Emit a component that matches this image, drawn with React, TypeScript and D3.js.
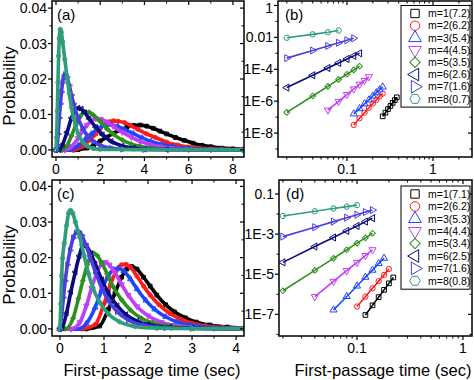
import React from "react";
import * as d3 from "d3";

type Pt = [number, number];

const seriesNames = ["m=1", "m=2", "m=3", "m=4", "m=5", "m=6", "m=7", "m=8"];
const seriesColors = ["#000000", "#ff1a1a", "#1f46ff", "#c33df5", "#2f8f1f", "#0a0a80", "#4a3ee0", "#2f9c7c"];
const seriesShapes = ["square", "circle", "up", "down", "diamond", "left", "right", "hexagon"];
const exponentsB = ["7.2", "6.2", "5.4", "4.5", "3.5", "2.6", "1.6", "0.7"];
const exponentsD = ["7.1", "6.2", "5.3", "4.4", "3.4", "2.5", "1.6", "0.8"];

// ---------- Panel (a): probability vs first-passage time ----------
const a_m1: Pt[] = [[0,0],[0.8,0],[1.0,0.0001],[1.4,0.0005],[1.7,0.0013],[2.0,0.0025],[2.3,0.0036],[2.6,0.0047],[2.9,0.0056],[3.2,0.0064],[3.5,0.0069],[3.8,0.0070],[4.1,0.0067],[4.4,0.0061],[4.7,0.0053],[5.0,0.0045],[5.4,0.0035],[5.8,0.0027],[6.2,0.0019],[6.6,0.0013],[7.0,0.0009],[7.5,0.0005],[8.0,0.0003],[8.5,0.0002]];
const a_m2: Pt[] = [[0,0],[0.8,0],[1.2,0.0010],[1.5,0.0027],[1.8,0.0045],[2.0,0.0060],[2.2,0.0071],[2.4,0.0079],[2.6,0.0082],[2.8,0.0081],[3.1,0.0077],[3.4,0.0068],[3.7,0.0058],[4.1,0.0045],[4.5,0.0035],[5.0,0.0022],[5.5,0.0014],[6.0,0.0008],[6.5,0.0005],[7.0,0.0003],[7.5,0.0002],[8.5,0.0001]];
const a_m3: Pt[] = [[0,0],[0.6,0],[1.0,0.0012],[1.3,0.0028],[1.6,0.0045],[1.9,0.0060],[2.1,0.0068],[2.3,0.0072],[2.5,0.0071],[2.8,0.0066],[3.1,0.0058],[3.5,0.0046],[3.9,0.0034],[4.3,0.0024],[4.8,0.0015],[5.3,0.0009],[6.0,0.0004],[6.5,0.0002],[7.5,0.0001],[8.5,0]];
const a_m4: Pt[] = [[0,0],[0.4,0],[0.7,0.0010],[1.0,0.0033],[1.2,0.0053],[1.4,0.0070],[1.6,0.0082],[1.8,0.0088],[2.0,0.0087],[2.3,0.0079],[2.6,0.0066],[3.0,0.0050],[3.4,0.0036],[3.8,0.0024],[4.2,0.0016],[4.7,0.0009],[5.2,0.0005],[6.0,0.0002],[7.0,0.0001],[8.5,0]];
const a_m5: Pt[] = [[0,0],[0.3,0],[0.5,0.0012],[0.7,0.0040],[0.9,0.0070],[1.1,0.0095],[1.3,0.0107],[1.5,0.0106],[1.7,0.0098],[2.0,0.0080],[2.3,0.0060],[2.6,0.0044],[3.0,0.0028],[3.4,0.0017],[3.8,0.0010],[4.3,0.0005],[5.0,0.0002],[6.0,0.0001],[8.5,0]];
const a_m6: Pt[] = [[0,0],[0.15,0],[0.3,0.0015],[0.5,0.0050],[0.7,0.0090],[0.85,0.0110],[1.0,0.0118],[1.15,0.0115],[1.3,0.0105],[1.5,0.0088],[1.8,0.0064],[2.1,0.0043],[2.5,0.0024],[3.0,0.0011],[3.5,0.0005],[4.0,0.0002],[5.0,0.0001],[8.5,0]];
const a_m7: Pt[] = [[0,0],[0.05,0.0010],[0.1,0.0045],[0.15,0.0090],[0.2,0.0130],[0.25,0.0163],[0.3,0.0190],[0.35,0.0206],[0.42,0.0213],[0.5,0.0205],[0.6,0.0182],[0.7,0.0155],[0.8,0.0130],[1.0,0.0090],[1.2,0.0062],[1.4,0.0042],[1.7,0.0024],[2.0,0.0013],[2.5,0.0005],[3.0,0.0002],[4.0,0.0001],[8.5,0]];
const a_m8: Pt[] = [[0,0],[0.03,0.0035],[0.06,0.0110],[0.09,0.0190],[0.12,0.0265],[0.15,0.0315],[0.19,0.0340],[0.24,0.0332],[0.3,0.0305],[0.4,0.0255],[0.5,0.0205],[0.6,0.0160],[0.7,0.0120],[0.8,0.0090],[1.0,0.0046],[1.2,0.0023],[1.4,0.0011],[1.7,0.0004],[2.0,0.0002],[3.0,0.0001],[8.5,0]];
const panelAData = [a_m1, a_m2, a_m3, a_m4, a_m5, a_m6, a_m7, a_m8];

// ---------- Panel (c) ----------
const c_m1: Pt[] = [[0,0],[0.6,0],[0.9,0.0008],[1.1,0.0055],[1.25,0.0100],[1.4,0.0145],[1.52,0.0168],[1.63,0.0175],[1.75,0.0168],[1.9,0.0145],[2.05,0.0120],[2.2,0.0095],[2.4,0.0068],[2.6,0.0048],[2.85,0.0031],[3.1,0.0019],[3.4,0.0011],[3.8,0.0005],[4.2,0.0002]];
const c_m2: Pt[] = [[0,0],[0.5,0],[0.8,0.0012],[1.0,0.0070],[1.15,0.0125],[1.28,0.0163],[1.4,0.0180],[1.5,0.0181],[1.6,0.0173],[1.75,0.0148],[1.9,0.0120],[2.05,0.0095],[2.25,0.0068],[2.5,0.0043],[2.75,0.0027],[3.0,0.0016],[3.3,0.0009],[3.7,0.0004],[4.2,0.0002]];
const c_m3: Pt[] = [[0,0],[0.4,0],[0.6,0.0015],[0.8,0.0060],[0.95,0.0110],[1.1,0.0150],[1.22,0.0166],[1.32,0.0170],[1.45,0.0163],[1.6,0.0140],[1.75,0.0112],[1.95,0.0080],[2.15,0.0055],[2.4,0.0034],[2.65,0.0020],[3.0,0.0010],[3.5,0.0004],[4.2,0.0001]];
const c_m4: Pt[] = [[0,0],[0.25,0],[0.45,0.0018],[0.6,0.0065],[0.72,0.0115],[0.84,0.0158],[0.95,0.0183],[1.03,0.0187],[1.12,0.0180],[1.25,0.0158],[1.4,0.0125],[1.55,0.0095],[1.75,0.0063],[2.0,0.0037],[2.3,0.0019],[2.6,0.0010],[3.0,0.0004],[3.5,0.0002],[4.2,0.0001]];
const c_m5: Pt[] = [[0,0],[0.12,0],[0.3,0.0030],[0.42,0.0085],[0.52,0.0135],[0.62,0.0180],[0.7,0.0205],[0.77,0.0212],[0.85,0.0205],[0.95,0.0185],[1.07,0.0155],[1.2,0.0120],[1.4,0.0082],[1.6,0.0053],[1.85,0.0030],[2.1,0.0017],[2.5,0.0008],[3.0,0.0003],[4.2,0.0001]];
const c_m6: Pt[] = [[0,0],[0.05,0.0003],[0.15,0.0045],[0.25,0.0105],[0.35,0.0160],[0.44,0.0205],[0.52,0.0235],[0.6,0.0232],[0.7,0.0212],[0.8,0.0182],[0.95,0.0138],[1.1,0.0100],[1.3,0.0065],[1.5,0.0040],[1.75,0.0022],[2.0,0.0012],[2.5,0.0004],[3.0,0.0002],[4.2,0]];
const c_m7: Pt[] = [[0,0],[0.04,0.0040],[0.08,0.0088],[0.12,0.0135],[0.17,0.0180],[0.23,0.0220],[0.3,0.0255],[0.37,0.0270],[0.43,0.0273],[0.5,0.0262],[0.58,0.0238],[0.67,0.0208],[0.8,0.0162],[0.95,0.0115],[1.1,0.0080],[1.3,0.0048],[1.55,0.0025],[1.9,0.0010],[2.4,0.0003],[3.0,0.0001],[4.2,0]];
const c_m8: Pt[] = [[0,0],[0.02,0.0070],[0.04,0.0150],[0.06,0.0198],[0.1,0.0240],[0.15,0.0290],[0.2,0.0325],[0.24,0.0333],[0.29,0.0325],[0.35,0.0300],[0.45,0.0258],[0.55,0.0205],[0.65,0.0155],[0.75,0.0115],[0.9,0.0075],[1.1,0.0042],[1.35,0.0020],[1.7,0.0007],[2.2,0.0002],[3.0,0.0001],[4.2,0]];
const panelCData = [c_m1, c_m2, c_m3, c_m4, c_m5, c_m6, c_m7, c_m8];

// ---------- Panel (b): log-log early-time ----------
const b_m1: Pt[] = [[0.26,1.12e-7],[0.28,1.9e-7],[0.30,3.2e-7],[0.32,5.0e-7],[0.34,7.8e-7],[0.36,1.17e-6],[0.38,1.74e-6]];
const b_m2: Pt[] = [[0.12,3.2e-8],[0.14,8.5e-8],[0.16,1.9e-7],[0.18,3.9e-7],[0.20,7.2e-7],[0.22,1.2e-6],[0.24,2.0e-6],[0.26,3.0e-6]];
const b_m3: Pt[] = [[0.12,1.6e-7],[0.14,3.4e-7],[0.16,6.8e-7],[0.18,1.2e-6],[0.20,2.1e-6],[0.22,3.4e-6],[0.24,5.2e-6],[0.26,7.8e-6]];
const b_m4: Pt[] = [[0.06,2.75e-7],[0.08,9.8e-7],[0.10,2.6e-6],[0.12,5.8e-6],[0.14,1.15e-5],[0.16,2.0e-5],[0.18,3.4e-5]];
const b_m5: Pt[] = [[0.02,2.0e-7],[0.04,2.1e-6],[0.06,8.5e-6],[0.08,2.3e-5],[0.10,4.9e-5],[0.12,9.1e-5],[0.14,1.55e-4]];
const b_m6: Pt[] = [[0.02,7.1e-6],[0.04,4.2e-5],[0.06,1.2e-4],[0.08,2.5e-4],[0.10,4.4e-4],[0.12,6.9e-4],[0.14,1.0e-3]];
const b_m7: Pt[] = [[0.02,5.0e-4],[0.04,1.5e-3],[0.06,2.9e-3],[0.08,4.6e-3],[0.10,6.6e-3],[0.12,8.8e-3]];
const b_m8: Pt[] = [[0.02,9.5e-3],[0.04,1.55e-2],[0.06,2.1e-2],[0.08,2.7e-2]];
const panelBData = [b_m1, b_m2, b_m3, b_m4, b_m5, b_m6, b_m7, b_m8];

// ---------- Panel (d) ----------
const d_m1: Pt[] = [[0.12,9.3e-8],[0.14,2.8e-7],[0.16,7.2e-7],[0.18,1.66e-6],[0.20,3.5e-6],[0.22,6.9e-6]];
const d_m2: Pt[] = [[0.10,2.45e-7],[0.12,7.6e-7],[0.14,2.0e-6],[0.16,4.5e-6],[0.18,9.3e-6],[0.20,1.8e-5]];
const d_m3: Pt[] = [[0.06,1.66e-7],[0.08,7.8e-7],[0.10,2.6e-6],[0.12,7.1e-6],[0.14,1.6e-5],[0.16,3.4e-5],[0.18,6.3e-5]];
const d_m4: Pt[] = [[0.04,7.6e-7],[0.06,4.4e-6],[0.08,1.5e-5],[0.10,3.9e-5],[0.12,8.5e-5],[0.14,1.66e-4]];
const d_m5: Pt[] = [[0.02,1.5e-6],[0.04,1.55e-5],[0.06,6.2e-5],[0.08,1.66e-4],[0.10,3.55e-4],[0.12,6.5e-4],[0.14,1.1e-3]];
const d_m6: Pt[] = [[0.02,3.9e-5],[0.04,2.4e-4],[0.06,6.8e-4],[0.08,1.45e-3],[0.10,2.55e-3],[0.12,4.2e-3],[0.14,6.2e-3]];
const d_m7: Pt[] = [[0.02,7.5e-4],[0.04,2.2e-3],[0.06,4.2e-3],[0.08,6.6e-3],[0.10,9.3e-3],[0.12,1.26e-2],[0.14,1.58e-2]];
const d_m8: Pt[] = [[0.02,8.0e-3],[0.04,1.38e-2],[0.06,1.9e-2],[0.08,2.35e-2],[0.10,2.8e-2]];
const panelDData = [d_m1, d_m2, d_m3, d_m4, d_m5, d_m6, d_m7, d_m8];

// ---------- Ticks ----------
const aXTicks = [0, 2, 4, 6, 8];
const aXMinor = [1, 3, 5, 7];
const linYTicks = [0, 0.01, 0.02, 0.03, 0.04];
const linYMinor = [0.005, 0.015, 0.025, 0.035];
const cXTicks = [0, 1, 2, 3, 4];
const cXMinor = [0.5, 1.5, 2.5, 3.5];
const bYTicks = [1, 1e-2, 1e-4, 1e-6, 1e-8];
const bYLabels = ["1", "0.01", "1E-4", "1E-6", "1E-8"];
const bYMinor = [1e-1, 1e-3, 1e-5, 1e-7, 1e-9];
const dYTicks = [1e-1, 1e-3, 1e-5, 1e-7];
const dYLabels = ["0.1", "1E-3", "1E-5", "1E-7"];
const dYMinor = [1e-2, 1e-4, 1e-6, 1e-8];
const logXTicks = [0.1, 1];
const logXLabels = ["0.1", "1"];
const logXMinor = [0.02, 0.03, 0.04, 0.05, 0.06, 0.07, 0.08, 0.09, 0.2, 0.3, 0.4, 0.5, 0.6, 0.7, 0.8, 0.9, 2];

const FONT = "'Liberation Sans', Arial, Helvetica, sans-serif";

const hexagon = {
  draw(ctx: any, size: number) {
    const r = Math.sqrt(size / 2.598);
    for (let i = 0; i < 6; i++) {
      const a = (Math.PI / 3) * i;
      const x = r * Math.cos(a), y = r * Math.sin(a);
      if (i === 0) ctx.moveTo(x, y); else ctx.lineTo(x, y);
    }
    ctx.closePath();
  },
};

function symbolFor(shape: string, size: number): { d: string; rot: number } {
  let type: any = d3.symbolTriangle;
  let rot = 0;
  let s = size;
  if (shape === "square") type = d3.symbolSquare;
  else if (shape === "circle") type = d3.symbolCircle;
  else if (shape === "diamond") { type = d3.symbolSquare; rot = 45; s = size * 0.75; }
  else if (shape === "hexagon") type = hexagon;
  else if (shape === "down") rot = 180;
  else if (shape === "left") rot = -90;
  else if (shape === "right") rot = 90;
  return { d: d3.symbol().type(type).size(s)() || "", rot };
}

function Marker({ x, y, i, size, sw }: { x: number; y: number; i: number; size: number; sw: number }) {
  const { d, rot } = symbolFor(seriesShapes[i], size);
  return (
    <path d={d} transform={`translate(${x},${y}) rotate(${rot})`} fill="none" stroke={seriesColors[i]} strokeWidth={sw} />
  );
}

type Box = { x0: number; x1: number; y0: number; y1: number };

function Frame({ box, x, y, xt, xl, xm, yt, yl, ym }: any) {
  const maj = 4, min = 2.5;
  const els: any[] = [];
  xt.forEach((v: number, k: number) => {
    const px = x(v);
    els.push(<line key={`xb${k}`} x1={px} x2={px} y1={box.y1} y2={box.y1 + maj} stroke="#000" strokeWidth={1.2} />);
    els.push(<line key={`xt${k}`} x1={px} x2={px} y1={box.y0} y2={box.y0 + maj} stroke="#000" strokeWidth={1.2} />);
    els.push(<text key={`xl${k}`} x={px} y={box.y1 + 17} textAnchor="middle" fontSize={14} fontFamily={FONT}>{xl[k]}</text>);
  });
  xm.forEach((v: number, k: number) => {
    const px = x(v);
    if (px < box.x0 || px > box.x1) return;
    els.push(<line key={`xmb${k}`} x1={px} x2={px} y1={box.y1} y2={box.y1 + min} stroke="#000" strokeWidth={1} />);
    els.push(<line key={`xmt${k}`} x1={px} x2={px} y1={box.y0} y2={box.y0 + min} stroke="#000" strokeWidth={1} />);
  });
  yt.forEach((v: number, k: number) => {
    const py = y(v);
    els.push(<line key={`yl${k}`} x1={box.x0} x2={box.x0 - maj} y1={py} y2={py} stroke="#000" strokeWidth={1.2} />);
    els.push(<line key={`yr${k}`} x1={box.x1} x2={box.x1 - maj} y1={py} y2={py} stroke="#000" strokeWidth={1.2} />);
    els.push(<text key={`ylb${k}`} x={box.x0 - 5} y={Math.max(py, 7.5)} dy="0.36em" textAnchor="end" fontSize={14} fontFamily={FONT}>{yl[k]}</text>);
  });
  ym.forEach((v: number, k: number) => {
    const py = y(v);
    if (py < box.y0 || py > box.y1) return;
    els.push(<line key={`yml${k}`} x1={box.x0} x2={box.x0 - min} y1={py} y2={py} stroke="#000" strokeWidth={1} />);
    els.push(<line key={`ymr${k}`} x1={box.x1} x2={box.x1 - min} y1={py} y2={py} stroke="#000" strokeWidth={1} />);
  });
  els.push(<rect key="frame" x={box.x0} y={box.y0} width={box.x1 - box.x0} height={box.y1 - box.y0} fill="none" stroke="#000" strokeWidth={1.5} />);
  return <g>{els}</g>;
}

function LinPanel({ box, data, xDomain, yDomain, xt, xm, label, clipId }: any) {
  const x = d3.scaleLinear().domain(xDomain).range([box.x0, box.x1]);
  const y = d3.scaleLinear().domain(yDomain).range([box.y1, box.y0]);
  const line = d3.line<Pt>().x((d) => x(d[0])).y((d) => y(d[1])).curve(d3.curveMonotoneX);
  return (
    <g>
      <defs>
        <clipPath id={clipId}>
          <rect x={box.x0} y={box.y0} width={box.x1 - box.x0} height={box.y1 - box.y0} />
        </clipPath>
      </defs>
      <g clipPath={`url(#${clipId})`}>
        {data.map((s: Pt[], i: number) => (
          <g key={i}>
            <path d={line(s) || ""} fill="none" stroke={seriesColors[i]} strokeWidth={3.6} strokeLinejoin="round" />
            {s.map((p, k) => (
              <Marker key={k} x={x(p[0])} y={y(p[1])} i={i} size={14} sw={1} />
            ))}
          </g>
        ))}
      </g>
      <Frame box={box} x={x} y={y} xt={xt} xl={xt.map((v: number) => String(v))} xm={xm}
        yt={linYTicks} yl={linYTicks.map((v) => d3.format(".2f")(v))} ym={linYMinor} />
      <text x={box.x0 + 5} y={box.y0 + 19} fontSize={15} fontFamily={FONT}>{label}</text>
    </g>
  );
}

function LogPanel({ box, data, xDomain, yDomain, yt, yl, ym, label, legendTop, legendStep, exps, clipId }: any) {
  const x = d3.scaleLog().domain(xDomain).range([box.x0, box.x1]);
  const y = d3.scaleLog().domain(yDomain).range([box.y1, box.y0]);
  const line = d3.line<Pt>().x((d) => x(d[0])).y((d) => y(d[1]));
  const lx0 = 401, lx1 = 470;
  return (
    <g>
      <defs>
        <clipPath id={clipId}>
          <rect x={box.x0} y={box.y0} width={box.x1 - box.x0} height={box.y1 - box.y0} />
        </clipPath>
      </defs>
      <g clipPath={`url(#${clipId})`}>
        {data.map((s: Pt[], i: number) => (
          <g key={i}>
            <path d={line(s) || ""} fill="none" stroke={seriesColors[i]} strokeWidth={1.6} />
            {s.map((p, k) => (
              <Marker key={k} x={x(p[0])} y={y(p[1])} i={i} size={22} sw={1} />
            ))}
          </g>
        ))}
      </g>
      <Frame box={box} x={x} y={y} xt={logXTicks} xl={logXLabels} xm={logXMinor} yt={yt} yl={yl} ym={ym} />
      <rect x={lx0} y={legendTop - 8} width={lx1 - lx0} height={legendStep * 8 + 4} fill="#fff" stroke="#000" strokeWidth={1} />
      {seriesNames.map((n, i) => {
        const cy = legendTop + i * legendStep;
        return (
          <g key={n}>
            <Marker x={415} y={cy} i={i} size={70} sw={1} />
            <text x={428} y={cy} dy="0.36em" fontSize={10.5} fontFamily={FONT}>{`${n}(${exps[i]})`}</text>
          </g>
        );
      })}
      <text x={box.x0 + 7} y={box.y0 + 19} fontSize={15} fontFamily={FONT}>{label}</text>
    </g>
  );
}

export default function App() {
  const boxA: Box = { x0: 52, x1: 244, y0: 1, y1: 157 };
  const boxB: Box = { x0: 278, x1: 472, y0: 1, y1: 157 };
  const boxC: Box = { x0: 52, x1: 244, y0: 180, y1: 336 };
  const boxD: Box = { x0: 279, x1: 472, y0: 180, y1: 336 };
  return (
    <svg width={474} height={380} style={{ position: "absolute", left: 0, top: 0, background: "#fff" }}>
      <rect x={0} y={0} width={474} height={380} fill="#fff" />
      <LinPanel box={boxA} data={panelAData} xDomain={[-0.18, 8.5]} yDomain={[-0.002, 0.042]} xt={aXTicks} xm={aXMinor} label="(a)" clipId="ca" />
      <LinPanel box={boxC} data={panelCData} xDomain={[-0.18, 4.18]} yDomain={[-0.002, 0.0418]} xt={cXTicks} xm={cXMinor} label="(c)" clipId="cc" />
      <LogPanel box={boxB} data={panelBData} xDomain={[0.0158, 2.84]} yDomain={[Math.pow(10, -9.5), Math.pow(10, 0.28)]}
        yt={bYTicks} yl={bYLabels} ym={bYMinor} label="(b)" legendTop={13.5} legendStep={12.2} exps={exponentsB} clipId="cb" />
      <LogPanel box={boxD} data={panelDData} xDomain={[0.01837, 1.216]} yDomain={[Math.pow(10, -8.08), Math.pow(10, -0.302)]}
        yt={dYTicks} yl={dYLabels} ym={dYMinor} label="(d)" legendTop={194} legendStep={12.4} exps={exponentsD} clipId="cd" />
      <text transform="translate(15,86) rotate(-90)" textAnchor="middle" fontSize={17} fontFamily={FONT}>Probability</text>
      <text transform="translate(15,265) rotate(-90)" textAnchor="middle" fontSize={17} fontFamily={FONT}>Probability</text>
      <text x={152} y={376} textAnchor="middle" fontSize={16.5} fontFamily={FONT}>First-passage time (sec)</text>
      <text x={383} y={376} textAnchor="middle" fontSize={16.5} fontFamily={FONT}>First-passage time (sec)</text>
    </svg>
  );
}
